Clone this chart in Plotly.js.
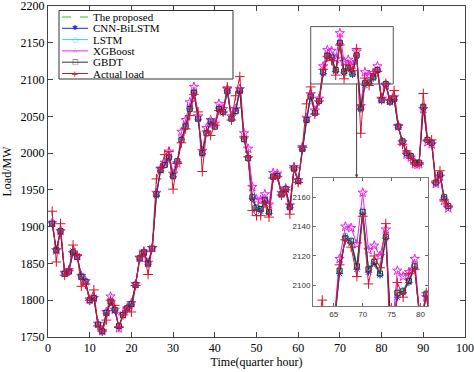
<!DOCTYPE html>
<html><head><meta charset="utf-8">
<script src="https://cdn.plot.ly/plotly-3.0.1.min.js"></script>
<style>html,body{margin:0;padding:0;background:#fff}#chart{width:474px;height:372px}</style>
</head><body><div id="chart"></div>
<script>
// ---- data ----
const timeIdx = Array.from({length: 96}, (_, i) => i + 1);
const seriesNames = ['The proposed', 'CNN-BiLSTM', 'LSTM', 'XGBoost', 'GBDT', 'Actual load'];

const proposed = [1906,1866,1896,1836,1839,1866,1859,1830,1824,1800,
 1805,1767,1758,1782,1798,1788,1765,1780,1789,1794,
 1821,1857,1865,1848,1870,1946,1978,1986,1995,1967,
 1989,2018,2036,2059,2082,2048,1998,2027,2041,2036,
 2060,2056,2085,2047,2059,2087,2019,1993,1939,1925,
 1923,1936,1919,1968,1969,1944,1951,1926,1979,1962,
 2006,2047,2078,2055,2071,2110,2132,2130,2112,2150,
 2110,2116,2108,2134,2059,2095,2096,2103,2113,2072,
 2094,2070,2075,2036,2016,2000,1996,1987,1987,2065,
 2018,2014,1960,1972,1939,1928];

const cnnBiLSTM = [1905,1869,1895,1837,1840,1867,1860,1833,1826,1801,
 1804,1766,1757,1782,1799,1786,1764,1781,1790,1794,
 1820,1856,1866,1849,1871,1942,1976,1985,1995,1968,
 1988,2019,2037,2061,2083,2046,1999,2028,2042,2037,
 2061,2055,2085,2046,2058,2084,2020,1994,1938,1923,
 1921,1934,1918,1967,1970,1943,1950,1926,1978,1961,
 2005,2044,2078,2054,2070,2108,2133,2129,2111,2149,
 2109,2115,2107,2132,2060,2092,2095,2102,2112,2071,
 2093,2069,2073,2035,2015,1999,1995,1986,1986,2062,
 2017,2013,1959,1970,1939,1927];

const lstm = [1903,1867,1893,1835,1838,1864,1858,1831,1824,1798,
 1802,1766,1757,1782,1797,1786,1764,1779,1788,1794,
 1820,1856,1864,1849,1869,1943,1976,1983,1993,1968,
 1988,2017,2035,2059,2081,2046,1999,2026,2042,2035,
 2059,2055,2083,2046,2056,2084,2018,1992,1939,1925,
 1923,1935,1919,1967,1968,1943,1950,1926,1978,1961,
 2005,2044,2076,2054,2070,2111,2134,2131,2114,2151,
 2112,2117,2109,2134,2060,2096,2097,2104,2114,2073,
 2095,2071,2075,2037,2017,2001,1997,1988,1988,2064,
 2019,2015,1961,1972,1941,1929];

const xgboost = [1905,1868,1894,1837,1841,1864,1860,1833,1826,1801,
 1803,1768,1758,1784,1805,1787,1762,1781,1789,1796,
 1822,1858,1866,1851,1871,1946,1979,1987,2002,1972,
 1986,2029,2045,2069,2090,2050,2003,2034,2045,2040,
 2067,2060,2087,2050,2060,2087,2027,2006,1954,1937,
 1936,1944,1930,1973,1972,1946,1952,1929,1981,1963,
 2008,2048,2080,2058,2074,2118,2140,2139,2128,2163,
 2124,2127,2120,2138,2064,2110,2106,2109,2118,2074,
 2092,2071,2076,2037,2015,1998,1994,1985,1985,2060,
 2015,2012,1958,1968,1935,1925];

const gbdt = [1904,1868,1894,1836,1839,1865,1859,1832,1825,1800,
 1803,1767,1758,1783,1798,1787,1765,1780,1789,1795,
 1821,1857,1865,1850,1870,1944,1977,1984,1994,1969,
 1989,2018,2036,2060,2082,2047,2000,2027,2043,2036,
 2060,2056,2084,2047,2057,2085,2019,1993,1940,1926,
 1924,1936,1920,1968,1969,1944,1951,1927,1979,1962,
 2006,2045,2077,2055,2071,2110,2132,2130,2113,2150,
 2111,2116,2108,2133,2061,2095,2096,2103,2113,2072,
 2094,2070,2074,2036,2016,2000,1996,1987,1987,2063,
 2018,2014,1960,1971,1940,1928];

const actualLoad = [1921,1852,1904,1834,1840,1875,1861,1819,1822,1800,
 1814,1765,1758,1773,1800,1793,1763,1780,1789,1784,
 1820,1859,1866,1835,1873,1965,1980,1998,2002,1951,
 1986,2014,2033,2051,2080,2056,1975,2030,2024,2038,
 2058,2056,2090,2045,2078,2104,2022,1995,1922,1915,
 1915,1932,1913,1966,1968,1943,1950,1917,1980,1960,
 2008,2067,2090,2053,2071,2114,2131,2126,2106,2147,
 2101,2120,2112,2142,2027,2102,2092,2108,2111,2075,
 2095,2072,2085,2038,2012,2003,1993,1985,1985,2081,
 2018,2018,1962,1976,1935,1928];

const seriesValues = [proposed, cnnBiLSTM, lstm, xgboost, gbdt, actualLoad];

const xTicks = [0,10,20,30,40,50,60,70,80,90,100];
const yTicks = [1750,1800,1850,1900,1950,2000,2050,2100,2150,2200];
const insetXTicks = [65,70,75,80];
const insetYTicks = [2100,2120,2140,2160];

// ---- styles ----
const styles = [
  {color:'#22c422', dash:'dash', symbol:null, size:0, glyph:''},
  {color:'#1c2ccc', dash:'solid', symbol:'asterisk-open', size:6, glyph:'\u2731'},
  {color:'#2ad8e0', dash:'solid', symbol:'circle-open', size:5, glyph:'\u25CB'},
  {color:'#f01cf0', dash:'solid', symbol:'star-open', size:7, glyph:'\u2606'},
  {color:'#303030', dash:'solid', symbol:'square-open', size:5, glyph:'\u25A1'},
  {color:'#d8142c', dash:'solid', symbol:'cross-thin-open', size:7, glyph:'+'}
];

// ---- geometry ----
const W = 474, H = 372, ML = 48, MR = 9, MT = 6, MB = 35;
const PW = W - ML - MR, PH = H - MT - MB;
const pxX = p => (p - ML) / PW;
const pxY = p => (H - MB - p) / PH;

const insetBox = {left:313, right:428, top:178, bottom:306};
const insetXRange = [61.4, 81.3];
const insetYRange = [2086, 2173];
const zoomRect = {x0:63, x1:82.8, y0:2094, y1:2172};
const arrowX = 74;

const serif = 'Liberation Serif, Times New Roman, serif';
const sans = 'Liberation Sans, Arial, sans-serif';

const traces = [];
[['x','y'],['x2','y2']].forEach(([xa, ya]) => {
  seriesValues.forEach((vals, k) => {
    const s = styles[k];
    const t = {
      type:'scatter', x: timeIdx, y: vals, name: seriesNames[k],
      xaxis: xa, yaxis: ya, showlegend:false, cliponaxis:true,
      mode: s.symbol ? 'lines+markers' : 'lines',
      line:{color:s.color, width:1, dash:s.dash},
      hoverinfo:'skip'
    };
    if (s.symbol) t.marker = {symbol:s.symbol, size:s.size, color:s.color, line:{color:s.color, width:1}};
    traces.push(t);
  });
});

// custom legend (MATLAB-like compact box)
const legBox = {left:59, right:233, top:10.5, bottom:79};
const legRow0 = 17, legStep = 11.3, legFont = 11;
const shapes = [
  {type:'rect', xref:'paper', yref:'paper', x0:pxX(legBox.left), x1:pxX(legBox.right), y0:pxY(legBox.bottom), y1:pxY(legBox.top),
   line:{color:'#333', width:1}, fillcolor:'#fff', layer:'above'},
  {type:'rect', xref:'x', yref:'y', x0:zoomRect.x0, x1:zoomRect.x1, y0:zoomRect.y0, y1:zoomRect.y1,
   line:{color:'#555', width:1}, fillcolor:'rgba(0,0,0,0)'}
];
const annotations = [];
seriesNames.forEach((nm, k) => {
  const yy = pxY(legRow0 + k*legStep);
  const s = styles[k];
  shapes.push({type:'line', xref:'paper', yref:'paper', x0:pxX(62), x1:pxX(88), y0:yy, y1:yy,
    line:{color:s.color, width:1, dash:s.dash}, layer:'above'});
  if (s.glyph) annotations.push({xref:'paper', yref:'paper', x:pxX(75), y:yy, text:s.glyph, showarrow:false,
    xanchor:'center', yanchor:'middle', font:{family:'DejaVu Sans', size: k===5?9:7, color:s.color}});
  annotations.push({xref:'paper', yref:'paper', x:pxX(91), y:yy, text:nm, showarrow:false,
    xanchor:'left', yanchor:'middle', font:{family:serif, size:legFont, color:'#000'}});
});
annotations.push({xref:'x', yref:'paper', x:arrowX, y:pxY(insetBox.top), ax:0, ay:-(insetBox.top - 82),
  text:'', showarrow:true, arrowhead:2, arrowsize:0.7, arrowwidth:1, arrowcolor:'#444'});

const axisCommon = {ticks:'inside', ticklen:5, tickcolor:'#444', showline:true, linecolor:'#444', linewidth:1,
  mirror:'ticks', showgrid:false, zeroline:false, ticklabeloverflow:'allow',
  tickfont:{family:serif, size:12, color:'#000'}};

const layout = {
  width:W, height:H, margin:{l:ML, r:MR, t:MT, b:MB},
  paper_bgcolor:'#fff', plot_bgcolor:'#fff', showlegend:false,
  font:{family:serif, size:12, color:'#000'},
  xaxis:Object.assign({}, axisCommon, {domain:[0,1], range:[0,100], tickvals:xTicks,
    title:{text:'Time(quarter hour)', font:{family:serif, size:12, color:'#000'}, standoff:2}}),
  yaxis:Object.assign({}, axisCommon, {domain:[0,1], range:[1750,2200], tickvals:yTicks,
    title:{text:'Load/MW', font:{family:serif, size:12, color:'#000'}, standoff:8}}),
  xaxis2:{domain:[pxX(insetBox.left), pxX(insetBox.right)], anchor:'y2', range:insetXRange, tickvals:insetXTicks,
    ticks:'inside', ticklen:3, tickcolor:'#666', showline:true, linecolor:'#777', linewidth:1, mirror:'ticks',
    showgrid:false, zeroline:false, tickfont:{family:sans, size:8, color:'#333'}},
  yaxis2:{domain:[pxY(insetBox.bottom), pxY(insetBox.top)], anchor:'x2', range:insetYRange, tickvals:insetYTicks,
    ticks:'inside', ticklen:3, tickcolor:'#666', showline:true, linecolor:'#777', linewidth:1, mirror:'ticks',
    showgrid:false, zeroline:false, tickfont:{family:sans, size:8, color:'#333'}},
  shapes: shapes, annotations: annotations
};

Plotly.newPlot('chart', traces, layout, {staticPlot:true, displayModeBar:false});
</script>
</body></html>
